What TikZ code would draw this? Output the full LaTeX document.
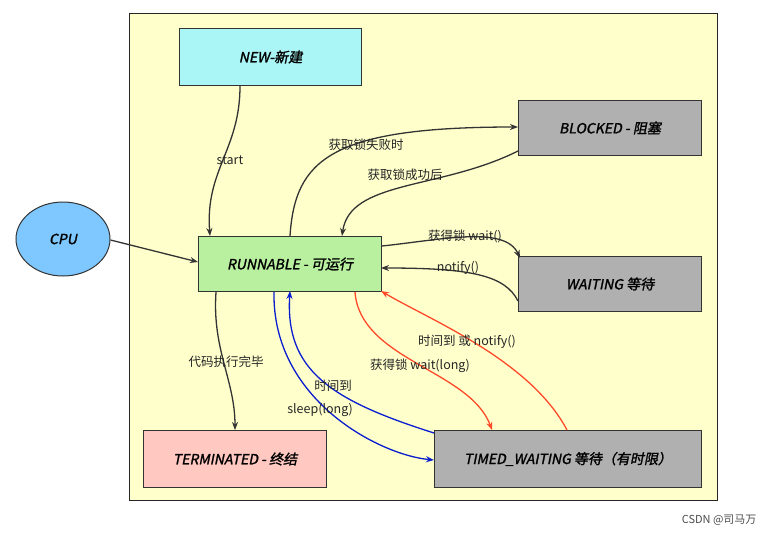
\documentclass[tikz,border=0pt]{standalone}
\usepackage{fontspec}
\setmainfont{Noto Sans CJK SC}[AutoFakeSlant=0.2,AutoFakeBold=1.5]
\usetikzlibrary{arrows.meta,shapes.geometric}
\definecolor{bgy}{HTML}{FFFFCC}
\definecolor{cyanb}{HTML}{AAF5F5}
\definecolor{grayb}{HTML}{B0B0B0}
\definecolor{greenb}{HTML}{B8F0A0}
\definecolor{pinkb}{HTML}{FFC8C0}
\definecolor{cpub}{HTML}{7FC8FF}
\definecolor{redl}{HTML}{FF4A2A}
\definecolor{bluel}{HTML}{0A1ED0}
\begin{document}
\begin{tikzpicture}[x=1pt,y=-1pt,
 st/.style={draw=black!80,line width=1pt,anchor=north west,inner sep=0pt,font=\fontsize{14}{16}\selectfont\bfseries\itshape},
 ar/.style={-{Stealth[length=8pt,width=6pt]},line width=1.3pt,draw=black!80},
 lb/.style={font=\fontsize{12.5}{14}\selectfont,text=black!85}]
\useasboundingbox (0,0) rectangle (765,536);
\node[draw=black!85,line width=1pt,fill=bgy,minimum width=588pt,minimum height=487pt,anchor=north west,inner sep=0] (bg) at (129,13) {};
\node[st,fill=cyanb,minimum width=182pt,minimum height=57pt] (new) at (179,28) {NEW-新建};
\node[st,fill=grayb,minimum width=183pt,minimum height=55pt] (blk) at (518,100) {BLOCKED - 阻塞};
\node[st,fill=greenb,minimum width=183pt,minimum height=55pt] (run) at (198,236) {RUNNABLE - 可运行};
\node[st,fill=grayb,minimum width=183pt,minimum height=55pt] (wait) at (518,256) {WAITING 等待};
\node[st,fill=pinkb,minimum width=183pt,minimum height=57pt] (term) at (143,430) {TERMINATED - 终结};
\node[st,fill=grayb,minimum width=267pt,minimum height=57pt] (tw) at (434,430) {TIMED\_WAITING 等待（有时限）};
\node[ellipse,draw=black!80,line width=1pt,fill=cpub,minimum width=94pt,minimum height=74pt,inner sep=0,font=\fontsize{14}{16}\selectfont\bfseries\itshape] (cpu) at (63,239) {CPU};

\draw[ar] (new.south west)++(61,0) coordinate (a1) (a1) .. controls (240,150) and (205,170) .. (run.north west-|210,0);
\node[lb] (l1) at (230,160) {start};
\draw[ar] (cpu.east)++(0,1) -- (run.west|-0,262);
\draw[ar] (run.north west)++(92,0) coordinate (a2) (a2) .. controls (295,160) and (330,127) .. (blk.west|-0,127);
\node[lb] (l2) at (366,145) {获取锁失败时};
\draw[ar] (blk.south west)++(0,-5) coordinate (a3) (a3) .. controls (440,190) and (350,180) .. (342,236);
\node[lb] (l3) at (405,175) {获取锁成功后};
\draw[ar] (run.north east)++(0,10) coordinate (a4) (a4) .. controls (440,240) and (505,225) .. (520,258);
\node[lb] (l4) at (465,236) {获得锁 wait()};
\draw[ar] (wait.south west)++(0,-11) coordinate (a5) (a5) .. controls (505,275) and (470,268) .. (381,268);
\node[lb] (l5) at (458,268) {notify()};
\draw[ar] (run.south west)++(18,0) coordinate (a6) (a6) .. controls (212,350) and (235,380) .. (235,430);
\node[lb] (l6) at (226,362) {代码执行完毕};
\draw[ar,draw=bluel] (run.south west)++(76,0) coordinate (b1) (b1) .. controls (272,400) and (380,455) .. (tw.west|-0,460);
\node[lb] (l7) at (320,410) {sleep(long)};
\draw[ar,draw=bluel] (tw.north west)++(0,3) coordinate (b2) (b2) .. controls (330,400) and (285,370) .. (290,291);
\node[lb] (l8) at (333,386) {时间到};
\draw[ar,draw=redl] (run.south west)++(157,0) coordinate (c1) (c1) .. controls (360,360) and (470,370) .. (492,430);
\node[lb] (l9) at (420,366) {获得锁 wait(long)};
\draw[ar,draw=redl] (tw.north west)++(133,0) coordinate (c2) (c2) .. controls (530,360) and (430,320) .. (381,291);
\node[lb] (l10) at (467,342) {时间到 或 notify()};
\node[font=\fontsize{11}{12}\selectfont,text=black!70,anchor=east] (wm) at (760,520) {CSDN @司马万};
\end{tikzpicture}
\end{document}
